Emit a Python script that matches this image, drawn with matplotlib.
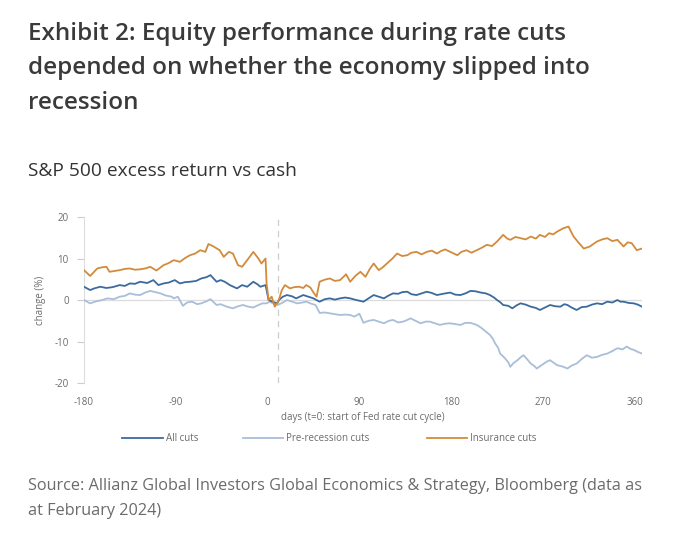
# Exhibit 2 - S&P 500 excess return vs cash around Fed rate cuts

import numpy as np
import matplotlib.pyplot as plt
from matplotlib.lines import Line2D

plt.rcParams['font.family'] = ['Open Sans', 'DejaVu Sans']
plt.rcParams['axes.unicode_minus'] = False

# values: (days from start of cut cycle, % change)
insurance = [(-180, 7.2), (-174, 5.8), (-167, 7.6), (-162, 7.9), (-158, 8.0), (-155, 6.8), (-150, 7.0),
             (-145, 7.2), (-140, 7.5), (-135, 7.6), (-130, 7.3), (-125, 7.4), (-120, 7.6), (-115, 8.0),
             (-109, 7.1), (-102, 8.4), (-97, 8.9), (-92, 9.6), (-86, 9.2), (-81, 10.1), (-76, 10.8),
             (-71, 11.2), (-66, 12.0), (-61, 11.6), (-58, 13.5), (-53, 12.9), (-47, 12.0), (-43, 10.4),
             (-38, 11.6), (-34, 11.2), (-29, 8.4), (-25, 8.0), (-20, 9.6), (-14, 11.6), (-9, 10.0),
             (-6, 8.8), (-2, 10.0), (-1, 4.0), (1, 0.0), (4, 0.8), (7, -1.6), (11, 0.0), (14, 2.4),
             (17, 3.6), (22, 2.8), (26, 3.1), (31, 3.2), (35, 2.9), (38, 3.6), (42, 3.0), (45, 1.8),
             (48, 0.8), (51, 4.4), (56, 4.9), (61, 5.2), (66, 4.6), (71, 4.8), (77, 6.2), (81, 4.4),
             (86, 5.8), (91, 6.8), (96, 5.6), (100, 7.4), (104, 8.8), (109, 7.2), (113, 7.9), (117, 8.8),
             (122, 9.9), (127, 11.2), (132, 10.6), (137, 10.8), (141, 11.4), (146, 11.6), (151, 11.0),
             (156, 11.6), (161, 11.9), (166, 11.2), (170, 11.8), (174, 12.2), (180, 11.5), (186, 10.8),
             (190, 11.6), (195, 12.0), (200, 11.4), (205, 12.0), (210, 12.6), (215, 13.3), (220, 13.0),
             (225, 14.1), (231, 15.7), (235, 14.8), (238, 14.5), (243, 15.2), (248, 14.9), (253, 14.6),
             (258, 15.3), (263, 14.8), (267, 15.7), (272, 15.2), (276, 16.1), (280, 15.8), (284, 16.5),
             (290, 17.3), (295, 17.7), (300, 15.3), (305, 13.8), (310, 12.4), (316, 12.9), (320, 13.6),
             (323, 14.1), (328, 14.6), (333, 14.9), (338, 14.2), (343, 14.5), (349, 12.9), (353, 13.9),
             (357, 13.7), (362, 12.0), (367, 12.4)]

all_cuts = [(-180, 3.2), (-174, 2.4), (-170, 2.8), (-164, 3.2), (-158, 2.9), (-152, 3.1), (-145, 3.6),
            (-140, 3.4), (-135, 4.0), (-130, 3.9), (-125, 4.4), (-118, 4.1), (-112, 4.8), (-107, 3.6),
            (-102, 4.0), (-97, 4.2), (-91, 4.8), (-86, 4.0), (-81, 4.3), (-76, 4.4), (-70, 4.6),
            (-65, 5.2), (-60, 5.5), (-56, 6.0), (-50, 4.4), (-46, 4.8), (-42, 4.4), (-37, 3.6),
            (-30, 2.8), (-25, 3.6), (-20, 3.2), (-14, 4.4), (-10, 3.8), (-7, 3.2), (-2, 3.6), (1, 0.0),
            (5, -0.4), (9, -0.8), (12, 0.2), (15, 0.8), (19, 1.2), (24, 0.9), (28, 0.4), (35, 1.2),
            (40, 0.8), (45, 0.4), (51, -0.4), (56, 0.2), (61, 0.4), (66, 0.1), (71, 0.4), (76, 0.6),
            (81, 0.4), (87, 0.0), (94, -0.4), (99, 0.4), (104, 1.2), (109, 0.8), (114, 0.4), (118, 1.0),
            (123, 1.6), (128, 1.5), (132, 1.9), (137, 2.0), (141, 1.4), (146, 1.2), (151, 1.6),
            (156, 2.0), (161, 1.7), (166, 1.2), (172, 1.5), (179, 1.8), (184, 1.3), (189, 1.2),
            (194, 1.6), (199, 2.2), (204, 2.1), (209, 1.8), (214, 1.6), (218, 1.2), (222, 0.6),
            (225, 0.0), (228, -0.5), (231, -1.2), (236, -1.4), (240, -2.0), (244, -1.3), (248, -0.8),
            (253, -1.1), (258, -1.6), (263, -1.9), (267, -2.4), (272, -1.8), (277, -1.2), (282, -1.5),
            (287, -1.6), (291, -1.0), (294, -1.2), (298, -1.8), (303, -2.4), (308, -1.7), (313, -1.6),
            (318, -1.1), (323, -0.8), (328, -1.0), (333, -0.4), (338, -0.6), (343, 0.0), (346, -0.4),
            (349, -0.4), (354, -0.7), (359, -0.8), (363, -1.1), (367, -1.6)]

pre_recession = [(-180, 0.0), (-174, -0.8), (-168, -0.3), (-162, 0.0), (-157, 0.4), (-151, 0.2),
                 (-145, 0.8), (-140, 1.0), (-135, 1.6), (-130, 1.3), (-125, 1.2), (-120, 1.8),
                 (-115, 2.2), (-110, 1.9), (-105, 1.6), (-100, 1.1), (-94, 0.8), (-92, 0.4), (-88, 0.8),
                 (-83, -1.4), (-79, -0.6), (-74, -0.4), (-69, -1.0), (-65, -0.8), (-60, -0.3), (-56, 0.2),
                 (-50, -1.2), (-46, -1.0), (-40, -1.6), (-34, -2.0), (-29, -1.5), (-24, -1.2), (-19, -1.6),
                 (-14, -1.8), (-9, -1.2), (-5, -0.8), (-1, -0.8), (2, -0.4), (6, -0.9), (10, -1.2),
                 (15, -0.6), (19, 0.0), (24, -0.4), (29, -0.8), (34, -0.6), (38, -0.4), (43, -0.9),
                 (47, -1.2), (51, -3.1), (56, -3.0), (61, -3.2), (66, -3.4), (71, -3.6), (76, -3.5),
                 (81, -3.6), (85, -4.0), (90, -3.3), (94, -5.5), (99, -5.0), (104, -4.8), (109, -5.2),
                 (114, -5.6), (119, -5.0), (123, -4.8), (128, -5.4), (133, -5.2), (137, -4.8), (140, -4.4),
                 (145, -5.0), (150, -5.6), (155, -5.2), (159, -5.2), (164, -5.6), (169, -6.0), (174, -5.7),
                 (179, -5.6), (184, -5.8), (189, -6.0), (194, -5.5), (199, -5.5), (205, -6.0), (209, -6.6),
                 (212, -7.2), (215, -7.8), (218, -8.4), (221, -9.4), (223, -10.4), (226, -11.5),
                 (228, -12.9), (231, -13.6), (233, -14.1), (236, -15.0), (238, -16.1), (241, -15.2),
                 (245, -14.5), (248, -13.8), (251, -13.3), (255, -14.4), (258, -15.3), (261, -15.8),
                 (264, -16.5), (268, -15.8), (271, -15.3), (274, -14.8), (277, -14.5), (281, -15.2),
                 (284, -15.7), (289, -16.0), (294, -16.5), (298, -15.8), (303, -15.3), (308, -14.2),
                 (313, -13.3), (318, -13.9), (323, -13.7), (328, -13.2), (333, -12.9), (338, -12.3),
                 (343, -11.6), (348, -11.9), (352, -11.2), (356, -11.8), (359, -12.0), (363, -12.5),
                 (367, -12.9)]

cut_start = 10
x_ticks = [-180, -90, 0, 90, 180, 270, 360]
y_ticks = [-20, -10, 0, 10, 20]

c_all = '#3b6a9e'
c_pre = '#a9bed8'
c_ins = '#d28b3c'
grey = '#6b6b6b'

fig = plt.figure(figsize=(7, 5.48), dpi=100)
ax = fig.add_axes([0.12, 0.301, 0.797, 0.303])

ax.axhline(0, color='#dcdcdc', lw=0.9, zorder=1)
ax.axvline(cut_start, color='#cccccc', lw=0.9, ls=(0, (5, 4)), zorder=1)
for data, col, z in [(pre_recession, c_pre, 3), (all_cuts, c_all, 4), (insurance, c_ins, 5)]:
    d = np.array(data)
    ax.plot(d[:, 0], d[:, 1], color=col, lw=1.3, zorder=z)

ax.set_xlim(-180, 367)
ax.set_ylim(-20, 20)
ax.set_xticks(x_ticks)
ax.set_yticks(y_ticks)
for s in ['top', 'right', 'bottom']:
    ax.spines[s].set_visible(False)
ax.spines['left'].set_color('#dddddd')
ax.tick_params(axis='y', colors='#cccccc', labelcolor=grey, labelsize=7, length=5, width=0.8, pad=6)
ax.tick_params(axis='x', length=0, labelcolor=grey, labelsize=7, pad=10)
ax.set_ylabel('change (%)', fontsize=7, color=grey, labelpad=6)
ax.set_xlabel('days (t=0: start of Fed rate cut cycle)', fontsize=7, color=grey, labelpad=3)

# legend, one entry at a time to match the spacing
entries = [('All cuts', c_all, 0.162), ('Pre-recession cuts', c_pre, 0.334), ('Insurance cuts', c_ins, 0.597)]
for lab, col, xpos in entries:
    h = Line2D([], [], color=col, lw=1.3)
    fig.legend([h], [lab], loc='center left', bbox_to_anchor=(xpos, 0.199), frameon=False,
               fontsize=7, handlelength=4.2, handletextpad=0.3, labelcolor=grey)

fig.text(0.04, 0.96, 'Exhibit 2: Equity performance during rate cuts\n'
         'depended on whether the economy slipped into\nrecession',
         fontsize=17.5, fontweight='semibold', color='#3a3a3a', va='top', linespacing=1.58)
fig.text(0.04, 0.688, 'S&P 500 excess return vs cash', fontsize=13.8, color='#333333', va='center')
fig.text(0.04, 0.127, 'Source: Allianz Global Investors Global Economics & Strategy, Bloomberg (data as\n'
         'at February 2024)', fontsize=11.7, color='#6b6b6b', va='top', linespacing=1.7)

fig.savefig('out.png', dpi=100)
